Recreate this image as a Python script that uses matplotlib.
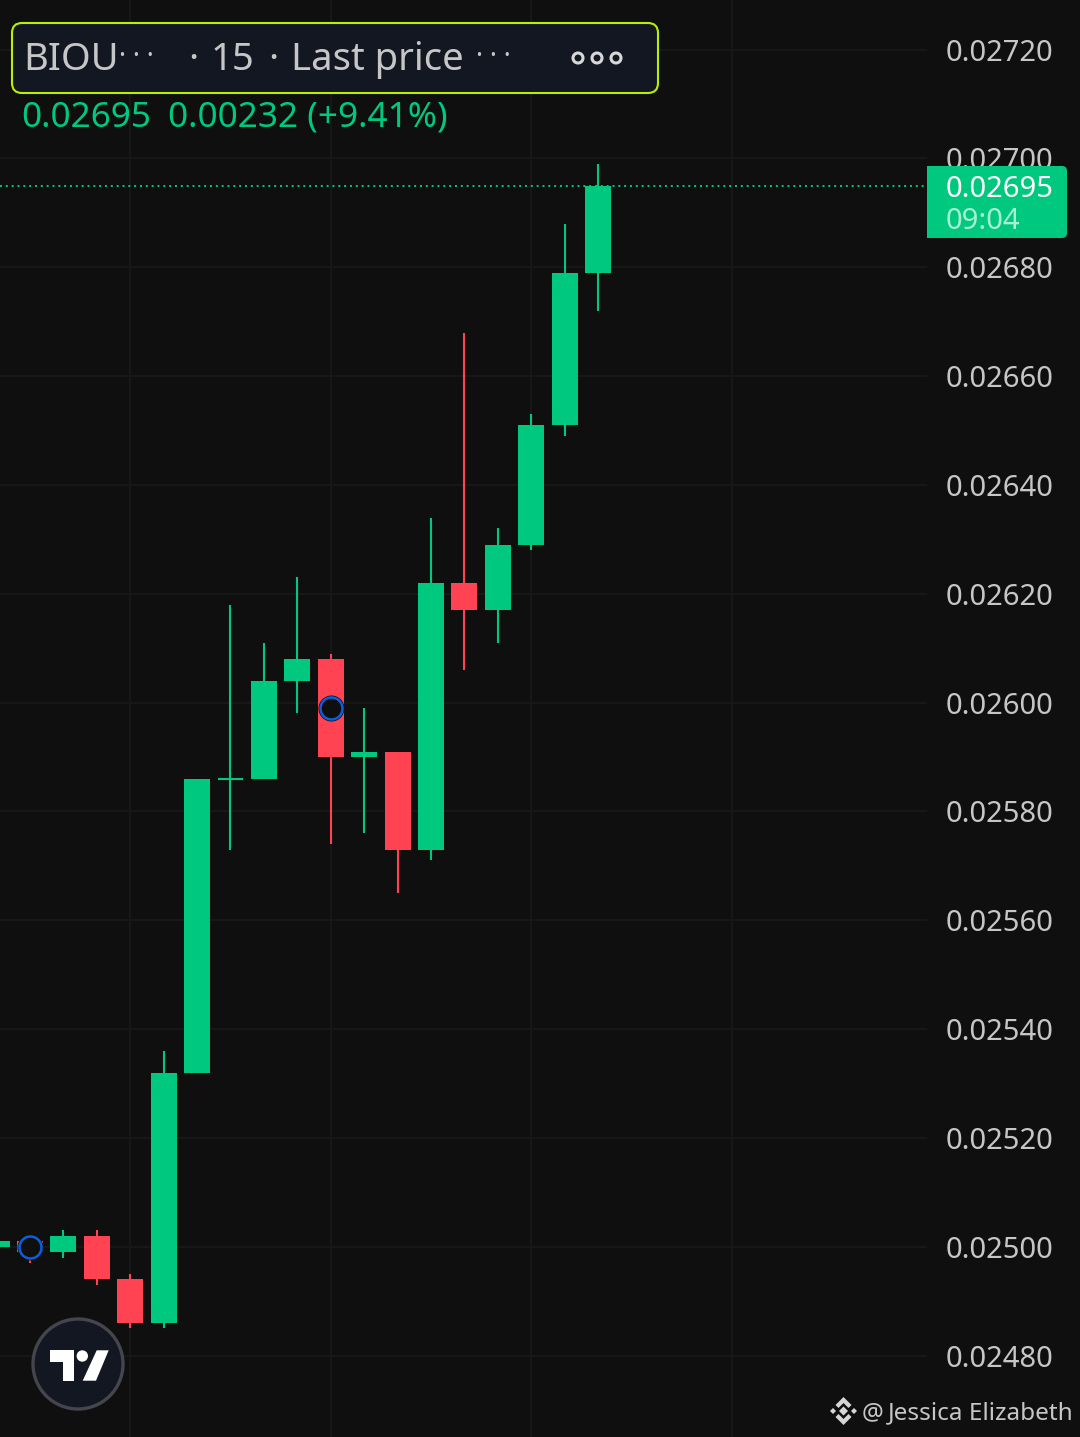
import matplotlib
matplotlib.use("Agg")
import matplotlib.pyplot as plt
from matplotlib.patches import FancyBboxPatch, Polygon, Circle, Rectangle

plt.rcParams['font.family'] = ['Noto Sans', 'DejaVu Sans']

# candles, first one is cut off by the left edge
opens  = [0.02500, 0.02501, 0.02499, 0.02502, 0.02494, 0.02486, 0.02532, 0.02586, 0.02586, 0.02604,
          0.02608, 0.02590, 0.02591, 0.02573, 0.02622, 0.02617, 0.02629, 0.02651, 0.02679]
highs  = [0.02501, 0.02501, 0.02503, 0.02503, 0.02495, 0.02536, 0.02586, 0.02618, 0.02611, 0.02623,
          0.02609, 0.02599, 0.02591, 0.02634, 0.02668, 0.02632, 0.02653, 0.02688, 0.02699]
lows   = [0.02500, 0.02497, 0.02498, 0.02493, 0.02485, 0.02485, 0.02532, 0.02573, 0.02586, 0.02598,
          0.02574, 0.02576, 0.02565, 0.02571, 0.02606, 0.02611, 0.02628, 0.02649, 0.02672]
closes = [0.02501, 0.02499, 0.02502, 0.02494, 0.02486, 0.02532, 0.02586, 0.02586, 0.02604, 0.02608,
          0.02590, 0.02591, 0.02573, 0.02622, 0.02617, 0.02629, 0.02651, 0.02679, 0.02695]
red_flags = [False, True, False, True, True, False, False, False, False, False,
             True, False, True, False, True, False, False, False, False]

price_ticks = [0.02480, 0.02500, 0.02520, 0.02540, 0.02560, 0.02580, 0.02600,
               0.02620, 0.02640, 0.02660, 0.02680, 0.02700, 0.02720]
time_ticks = [4, 10, 16, 22]

# blue marks on top of two candles
mark_pos = [1, 10]
mark_price = [0.02500, 0.02599]

last_price = 0.02695

BG = "#0f0f0f"
GRID = "#181818"
GREEN = "#00c97f"
RED = "#ff4352"
LABEL = "#c6c6c6"
PANEL = "#131722"

fig = plt.figure(figsize=(10.8, 14.37), dpi=100, facecolor=BG)
ax = fig.add_axes([0, 0, 927 / 1080, 1], facecolor=BG)
ax.set_xlim(0.10, 27.85)
ax.set_ylim(0.0246503, 0.0272913)

ax.set_xticks(time_ticks)
ax.set_xticklabels([])
ax.set_yticks(price_ticks)
ax.set_yticklabels(["%.5f" % p for p in price_ticks])
ax.yaxis.tick_right()
ax.tick_params(length=0, pad=13.2, labelsize=21, labelcolor=LABEL)
ax.grid(True, color=GRID, linewidth=1.4)
ax.set_axisbelow(True)
for s in ax.spines.values():
    s.set_visible(False)

for i in range(len(opens)):
    c = RED if red_flags[i] else GREEN
    ax.vlines(i, lows[i], highs[i], color=c, linewidth=1.5, zorder=3)
    bottom = min(opens[i], closes[i])
    height = abs(closes[i] - opens[i])
    if height == 0:
        ax.hlines(opens[i], i - 0.389, i + 0.389, color=c, linewidth=1.5, zorder=3)
    else:
        ax.bar(i, height, 0.778, bottom=bottom, color=c, linewidth=0, zorder=3)

ax.axhline(last_price, color=GREEN, linewidth=1.4, linestyle=(0, (1, 2)), zorder=2)
ax.scatter(mark_pos, mark_price, s=350, facecolor=BG, edgecolor=BG, linewidth=0, zorder=4)
ax.scatter(mark_pos, mark_price, s=250, facecolor=BG, edgecolor="#0a5fe0", linewidth=1.8, zorder=5)

# overlay in pixels for the panel, price box, logos
ov = fig.add_axes([0, 0, 1, 1], facecolor="none")
ov.set_xlim(0, 1080)
ov.set_ylim(1437, 0)
ov.axis("off")

ov.add_patch(FancyBboxPatch((12, 23), 646, 70, boxstyle="round,pad=0,rounding_size=10",
                            facecolor=PANEL, edgecolor="#b7f000", linewidth=1.5))
ov.text(23, 60, "BIOU", color=LABEL, fontsize=27.5, va="center")
ov.text(119, 57, "· · ·", color=LABEL, fontsize=19, va="center")
ov.text(188, 60, "·", color=LABEL, fontsize=27.5, va="center")
ov.text(211, 60, "15", color=LABEL, fontsize=27.5, va="center")
ov.text(268, 60, "·", color=LABEL, fontsize=27.5, va="center")
ov.text(291, 60, "Last price", color=LABEL, fontsize=27.5, va="center")
ov.text(476, 57, "· · ·", color=LABEL, fontsize=19, va="center")
for x in [578, 597, 616]:
    ov.add_patch(Circle((x, 58), 5, facecolor="none", edgecolor="#d8d8d8", linewidth=2.2))

ov.text(21.5, 118, "0.02695", color=GREEN, fontsize=25.3, va="center")
ov.text(168, 118, "0.00232 (+9.41%)", color=GREEN, fontsize=25.3, va="center")

ov.add_patch(FancyBboxPatch((927, 166), 140, 72, boxstyle="round,pad=0,rounding_size=5",
                            facecolor=GREEN, edgecolor="none"))
ov.add_patch(Rectangle((927, 166), 20, 72, facecolor=GREEN, edgecolor="none"))
ov.text(946, 189.5, "0.02695", color="white", fontsize=21, va="center")
ov.text(946, 221.5, "09:04", color="#a6efd4", fontsize=21, va="center")

# TradingView badge
ov.add_patch(Circle((78, 1364), 45, facecolor=PANEL, edgecolor="#45454d", linewidth=2.4))
ov.add_patch(Polygon([(50, 1350.3), (74, 1350.3), (74, 1380.7), (63.3, 1380.7), (63.3, 1361.7), (50, 1361.7)],
                     facecolor="white", edgecolor="none"))
ov.add_patch(Circle((82.3, 1356), 5.7, facecolor="white", edgecolor="none"))
ov.add_patch(Polygon([(96.7, 1350.3), (108.7, 1350.3), (96, 1380.7), (82.7, 1380.7)],
                     facecolor="white", edgecolor="none"))

# Binance mark
cx, cy = 843.5, 1411
LOGO = "#d6d6d6"
for dx, r in [(0, 4.5), (-10.5, 3), (10.5, 3)]:
    ov.add_patch(Polygon([(cx + dx - r, cy), (cx + dx, cy - r), (cx + dx + r, cy), (cx + dx, cy + r)],
                         facecolor=LOGO, edgecolor="none"))
ov.add_patch(Polygon([(cx - 8, cy - 6), (cx, cy - 14), (cx + 8, cy - 6), (cx + 5, cy - 3), (cx, cy - 8), (cx - 5, cy - 3)],
                     facecolor=LOGO, edgecolor="none"))
ov.add_patch(Polygon([(cx - 8, cy + 6), (cx, cy + 14), (cx + 8, cy + 6), (cx + 5, cy + 3), (cx, cy + 8), (cx - 5, cy + 3)],
                     facecolor=LOGO, edgecolor="none"))
ov.text(862, 1413, "@", color=LABEL, fontsize=17.5, va="center")
ov.text(887.5, 1413, "Jessica Elizabeth", color=LABEL, fontsize=17.5, va="center")

fig.savefig("out.png", dpi=100, facecolor=BG)
